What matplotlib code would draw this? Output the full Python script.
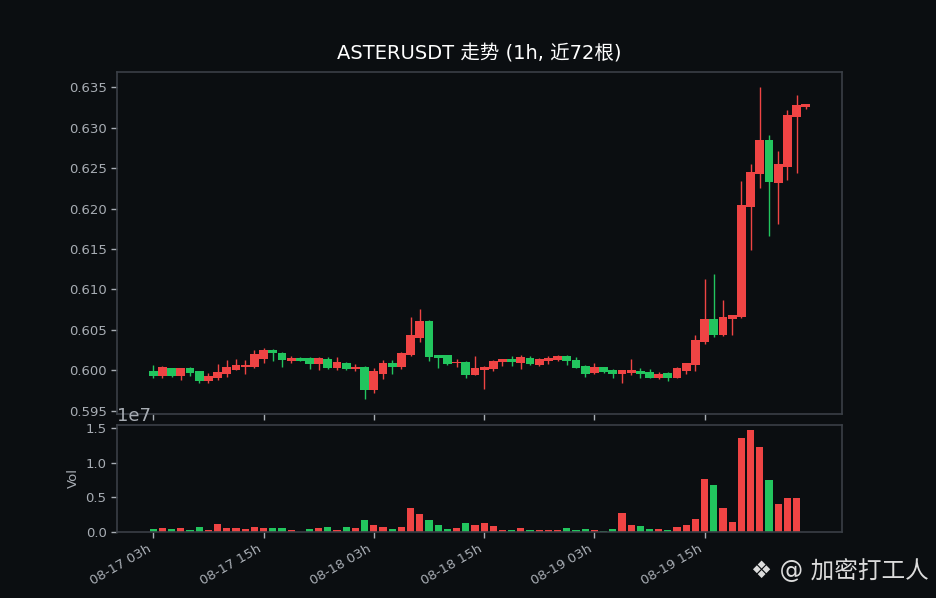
import numpy as np
import pandas as pd
import matplotlib
matplotlib.use("Agg")
from matplotlib import pyplot as plt
from matplotlib.ticker import MultipleLocator, FormatStrFormatter

plt.rcParams['font.family'] = ['DejaVu Sans', 'Noto Sans CJK SC']

symbol = "ASTERUSDT"
times = pd.date_range("2025-08-17 03:00", periods=72, freq="h")

opens = [0.59994, 0.59936, 0.60027, 0.59936, 0.60027, 0.59990, 0.59862, 0.59911, 0.59960, 0.60010,
         0.60047, 0.60047, 0.60137, 0.60253, 0.60216, 0.60121, 0.60154, 0.60150, 0.60080, 0.60138,
         0.60035, 0.60093, 0.60019, 0.60043, 0.59751, 0.59957, 0.60089, 0.60047, 0.60191, 0.60405,
         0.60611, 0.60191, 0.60191, 0.60089, 0.60105, 0.59948, 0.60010, 0.60019, 0.60109, 0.60142,
         0.60096, 0.60154, 0.60072, 0.60117, 0.60130, 0.60179, 0.60130, 0.60056, 0.59973, 0.60043,
         0.59998, 0.59960, 0.59973, 0.59994, 0.59981, 0.59907, 0.59969, 0.59907, 0.59994, 0.60068,
         0.60356, 0.60636, 0.60438, 0.60636, 0.60660, 0.62019, 0.62426, 0.62846, 0.62315, 0.62512,
         0.63130, 0.63253]
highs = [0.60068, 0.60056, 0.60035, 0.60030, 0.60037, 0.59995, 0.59965, 0.60080, 0.60130, 0.60142,
         0.60130, 0.60253, 0.60274, 0.60270, 0.60232, 0.60179, 0.60160, 0.60170, 0.60170, 0.60170,
         0.60170, 0.60105, 0.60080, 0.60050, 0.60027, 0.60130, 0.60130, 0.60232, 0.60664, 0.60759,
         0.60620, 0.60195, 0.60195, 0.60146, 0.60110, 0.60179, 0.60050, 0.60130, 0.60142, 0.60179,
         0.60188, 0.60179, 0.60154, 0.60179, 0.60195, 0.60185, 0.60170, 0.60065, 0.60093, 0.60043,
         0.60019, 0.60010, 0.60142, 0.60031, 0.60019, 0.59981, 0.59975, 0.60043, 0.60093, 0.60438,
         0.61130, 0.61191, 0.60870, 0.60685, 0.62340, 0.62549, 0.63500, 0.62907, 0.62710, 0.63216,
         0.63401, 0.63290]
lows = [0.59911, 0.59911, 0.59916, 0.59883, 0.59936, 0.59846, 0.59846, 0.59883, 0.59923, 0.60005,
        0.59957, 0.60035, 0.60096, 0.60117, 0.60047, 0.60093, 0.60110, 0.60019, 0.60006, 0.60019,
        0.60006, 0.60006, 0.59990, 0.59648, 0.59722, 0.59895, 0.59957, 0.60019, 0.60179, 0.60352,
        0.60117, 0.60035, 0.60070, 0.60047, 0.59911, 0.59940, 0.59772, 0.59994, 0.60056, 0.60056,
        0.60019, 0.60068, 0.60056, 0.60080, 0.60117, 0.60068, 0.60025, 0.59920, 0.59960, 0.59969,
        0.59907, 0.59846, 0.59944, 0.59907, 0.59907, 0.59895, 0.59870, 0.59907, 0.59957, 0.59994,
        0.60331, 0.60414, 0.60426, 0.60438, 0.60648, 0.61488, 0.62253, 0.61660, 0.61809, 0.62352,
        0.62438, 0.63228]
closes = [0.59936, 0.60043, 0.59936, 0.60027, 0.59973, 0.59862, 0.59928, 0.59981, 0.60043, 0.60068,
          0.60068, 0.60204, 0.60253, 0.60212, 0.60133, 0.60154, 0.60121, 0.60080, 0.60154, 0.60035,
          0.60105, 0.60019, 0.60043, 0.59751, 0.59994, 0.60089, 0.60047, 0.60216, 0.60438, 0.60611,
          0.60170, 0.60158, 0.60080, 0.60109, 0.59948, 0.60031, 0.60043, 0.60117, 0.60142, 0.60109,
          0.60167, 0.60084, 0.60142, 0.60154, 0.60179, 0.60117, 0.60031, 0.59960, 0.60043, 0.59981,
          0.59960, 0.60006, 0.59998, 0.59960, 0.59907, 0.59957, 0.59907, 0.60031, 0.60093, 0.60377,
          0.60636, 0.60438, 0.60660, 0.60685, 0.62043, 0.62451, 0.62846, 0.62327, 0.62549, 0.63154,
          0.63278, 0.63290]
# volume in millions
volumes_m = [0.43, 0.58, 0.43, 0.58, 0.29, 0.72, 0.29, 1.16, 0.58, 0.58,
             0.43, 0.72, 0.58, 0.58, 0.58, 0.29, 0.05, 0.43, 0.58, 0.72,
             0.29, 0.72, 0.58, 1.74, 1.01, 0.72, 0.43, 0.72, 3.47, 2.60,
             1.74, 1.01, 0.43, 0.58, 1.30, 1.01, 1.30, 0.87, 0.29, 0.29,
             0.58, 0.29, 0.29, 0.29, 0.29, 0.58, 0.29, 0.43, 0.29, 0.14,
             0.43, 2.75, 1.01, 0.87, 0.43, 0.43, 0.29, 0.72, 1.01, 1.88,
             7.67, 6.80, 3.47, 1.45, 13.6, 14.76, 12.30, 7.53, 4.05, 4.92,
             4.92, 0.0]
tick_every = 12

bg = '#0b0e11'
up_col = '#ef4444'
down_col = '#22c55e'
spine_col = '#3a3f46'
text_col = '#a8adb4'

o = np.array(opens)
h = np.array(highs)
l = np.array(lows)
c = np.array(closes)
v = np.array(volumes_m) * 1e6
x = np.arange(len(o))
cols = np.where(c >= o, up_col, down_col)

fig = plt.figure(figsize=(9.36, 5.98), dpi=100, facecolor=bg)
ax = fig.add_axes([0.125, 0.3077, 0.7746, 0.5719])
axv = fig.add_axes([0.125, 0.1104, 0.7746, 0.1789], sharex=ax)

for a in (ax, axv):
    a.set_facecolor(bg)
    for s in a.spines.values():
        s.set_color(spine_col)
        s.set_linewidth(1.2)
    a.tick_params(colors=text_col, labelsize=9.5, length=4, width=1)

# candles
ax.vlines(x, l, h, colors=cols, linewidth=1.0)
body = np.abs(c - o)
body = np.maximum(body, 0.00003)
ax.bar(x, body, bottom=np.minimum(o, c), width=0.96, color=cols, linewidth=0)

ax.set_xlim(-3.95, 74.95)
ax.set_ylim(0.5946, 0.6369)
ax.yaxis.set_major_locator(MultipleLocator(0.005))
ax.yaxis.set_major_formatter(FormatStrFormatter('%.3f'))
ax.set_title(f"{symbol} 走势 (1h, 近{len(x)}根)", color='white', fontsize=14, pad=9)

# volume
axv.bar(x, v, width=0.78, color=cols, linewidth=0)
axv.set_ylim(0, 15.5e6)
axv.yaxis.set_major_locator(MultipleLocator(0.5e7))
axv.yaxis.get_offset_text().set_fontsize(13)
axv.yaxis.get_offset_text().set_color(text_col)
axv.set_ylabel('Vol', color=text_col, fontsize=9.5)

ticks = x[::tick_every]
axv.set_xticks(ticks)
axv.set_xticklabels([t.strftime('%m-%d %Hh') for t in times[::tick_every]],
                    rotation=30, ha='right')
plt.setp(ax.get_xticklabels(), visible=False)

fig.text(0.992, 0.045, '❖ @ 加密打工人', ha='right', va='center',
         fontsize=17, color='#dcdcdc')

fig.savefig('out.png', dpi=100, facecolor=bg)
